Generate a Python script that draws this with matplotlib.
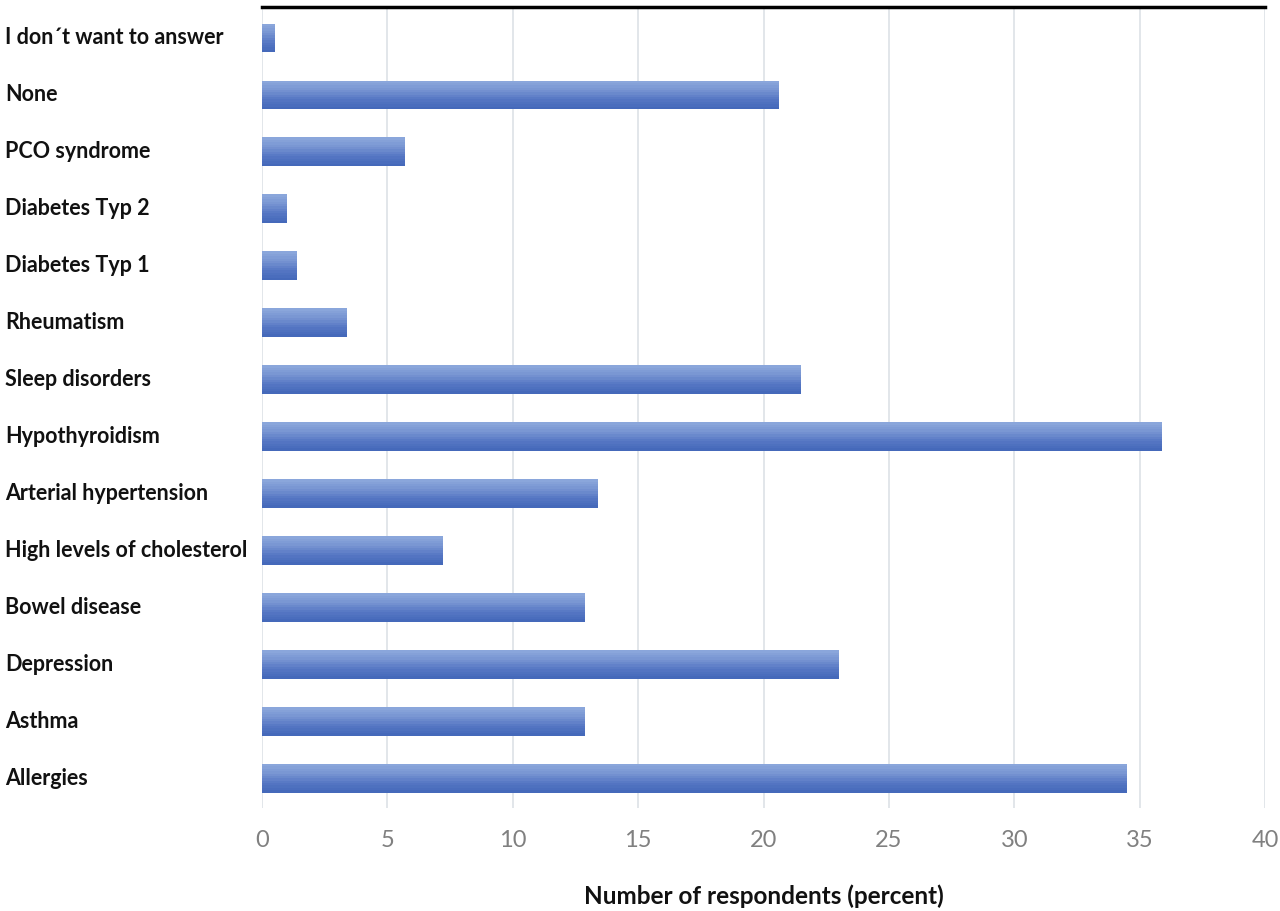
import numpy as np
import matplotlib
matplotlib.use('Agg')
import matplotlib.pyplot as plt
from matplotlib.colors import LinearSegmentedColormap

plt.rcParams['font.family'] = ['Lato', 'DejaVu Sans']

categories = ['Allergies', 'Asthma', 'Depression', 'Bowel disease',
              'High levels of cholesterol', 'Arterial hypertension',
              'Hypothyroidism', 'Sleep disorders', 'Rheumatism',
              'Diabetes Typ 1', 'Diabetes Typ 2', 'PCO syndrome', 'None',
              'I don\u00b4t want to answer']
values = [34.5, 12.9, 23.0, 12.9, 7.2, 13.4, 35.9, 21.5, 3.4, 1.4, 1.0, 5.7, 20.6, 0.5]
xticks = [0, 5, 10, 15, 20, 25, 30, 35, 40]

fig = plt.figure(figsize=(12.8, 9.11), dpi=100)
ax = fig.add_axes([0.2047, 0.1131, 0.7836, 0.8792])

y = np.arange(len(categories))
bar_h = 0.5

# striped gradient: light on top, darker at the bottom
cmap = LinearSegmentedColormap.from_list('bars', ['#4569ba', '#5677c4', '#7693d1', '#8aa6db'])
n_str = 12
for k in range(n_str):
    frac = k / (n_str - 1)
    c = cmap(frac)
    lo = y - bar_h / 2 + k * bar_h / n_str
    ax.barh(lo, values, height=bar_h / n_str, align='edge', color=c,
            edgecolor='none', zorder=3)

ax.set_xlim(0, 40)
ax.set_ylim(-0.52, len(categories) - 0.46)
ax.set_xticks(xticks)
ax.set_xticklabels([str(t) for t in xticks], color='#808080', fontsize=17)
ax.set_yticks(y)
ax.set_yticklabels(categories, fontsize=15.5, fontweight='bold', ha='left',
                   va='center', color='#111111')
for lab in ax.get_yticklabels():
    lab.set_y(lab.get_position()[1])
ax.tick_params(axis='y', length=0, pad=185)
ax.tick_params(axis='x', length=0, pad=16)

ax.grid(axis='x', color='#dde1e6', linewidth=1.2, zorder=0)
ax.set_axisbelow(True)
for s in ['left', 'right', 'bottom']:
    ax.spines[s].set_visible(False)
ax.spines['top'].set_color('black')
ax.spines['top'].set_linewidth(2.5)

ax.set_xlabel('Number of respondents (percent)', fontsize=17.5, fontweight='bold',
              labelpad=24, color='#111111')

fig.savefig('out.png', dpi=100)
